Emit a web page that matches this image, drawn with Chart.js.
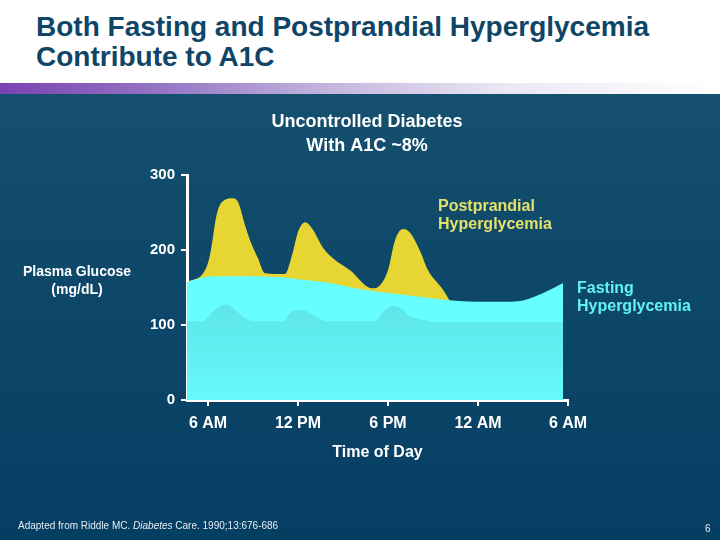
<!DOCTYPE html>
<html>
<head>
<meta charset="utf-8">
<script src="https://cdn.jsdelivr.net/npm/chart.js@4/dist/chart.umd.min.js"></script>
<style>
  html, body { margin: 0; padding: 0; }
  body { width: 720px; height: 540px; position: relative; overflow: hidden; background: #fff; font-family: "Liberation Sans", Arial, sans-serif; }
  #header { position: absolute; left: 0; top: 0; width: 720px; height: 83px; background: #fff; }
  #header h1 { margin: 0; position: absolute; left: 36px; top: 12px; font-size: 28px; line-height: 30px; font-weight: bold; color: #0f4566; }
  #bar { position: absolute; left: 0; top: 83px; width: 720px; height: 11px;
    background: linear-gradient(to right, #7a42b2 0%, #9474c4 22%, #c2b4dd 45%, #ebe7f3 70%, #ffffff 100%); }
  #panel { position: absolute; left: 0; top: 94px; width: 720px; height: 446px;
    background: linear-gradient(to bottom, #15506f 0%, #0c4668 50%, #053e63 100%); }
  #source { position: absolute; left: 18px; top: 520px; font-size: 10px; color: #e4ecf2; }
  #page { position: absolute; left: 705px; top: 523px; font-size: 10px; color: #e4ecf2; }
</style>
</head>
<body>
<div id="header"><h1>Both Fasting and Postprandial Hyperglycemia<br>Contribute to A1C</h1></div>
<div id="bar"></div>
<div id="panel"><canvas id="myChart" width="720" height="446"></canvas></div>
<div id="source">Adapted from Riddle MC. <i>Diabetes</i> Care. 1990;13:676-686</div>
<div id="page">6</div>
<script>
// hours of the day (6 = 6 AM, 30 = 6 AM next day), glucose in mg/dL
const xTickHours = [6, 12, 18, 24, 30]
const xTickLabels = ['6 AM', '12 PM', '6 PM', '12 AM', '6 AM']
const yTicks = [0, 100, 200, 300]

const postprandialHours = [4.6, 5.8, 6.13, 6.6, 7.13, 7.6, 8.0, 8.47, 8.8, 9.33, 9.8, 11.13, 11.6, 12.0, 12.47, 12.93, 13.67, 14.33, 15.47, 16.93, 17.47, 18.0, 18.47, 19.0, 19.47, 20.13, 20.67, 21.67, 22.13]
const postprandialGlucose = [157, 173, 193, 249, 267, 269, 264, 233, 213, 189, 169, 168, 193, 224, 237, 229, 203, 189, 173, 149, 153, 173, 213, 228, 223, 199, 173, 147, 132]

const fastingHours = [4.6, 5.8, 7.0, 8.8, 10.6, 12.47, 14.13, 15.8, 17.47, 19.13, 20.8, 22.13, 23.8, 25.47, 26.8, 27.67, 28.8, 29.67]
const fastingGlucose = [157, 164, 165, 165, 164, 160, 156, 149, 144, 140, 136, 133, 131, 131, 132, 137, 147, 156]

const normalHours = [4.6, 5.67, 6.27, 6.8, 7.27, 7.8, 8.47, 9.0, 11.0, 11.47, 11.93, 12.47, 13.13, 13.93, 17.13, 17.67, 18.27, 18.8, 19.47, 20.33, 21.0, 29.67]
const normalGlucose = [105, 105, 117, 125, 127, 120, 109, 105, 105, 116, 120, 119, 112, 105, 105, 117, 125, 123, 112, 107, 104, 104]

const toPoints = (xs, ys) => xs.map((x, i) => ({ x: x, y: ys[i] }))

const normalFill = (context) => {
    const area = context.chart.chartArea
    if (!area) return '#60ecec'
    const g = context.chart.ctx.createLinearGradient(0, area.top + 100, 0, area.bottom)
    g.addColorStop(0, '#5be0e3')
    g.addColorStop(1, '#66f9fa')
    return g
}

const labelsPlugin = {
    id: 'slideLabels',
    afterDraw: (chart) => {
        const ctx = chart.ctx
        ctx.save()
        ctx.textBaseline = 'middle'
        ctx.fillStyle = '#ffffff'
        ctx.textAlign = 'center'
        ctx.font = 'bold 18px "Liberation Sans", Arial, sans-serif'
        ctx.fillText('Uncontrolled Diabetes', 367, 28)
        ctx.fillText('With A1C ~8%', 367, 52)

        ctx.font = 'bold 14px "Liberation Sans", Arial, sans-serif'
        ctx.fillText('Plasma Glucose', 77, 178)
        ctx.fillText('(mg/dL)', 77, 196)

        ctx.textAlign = 'left'
        ctx.font = 'bold 16px "Liberation Sans", Arial, sans-serif'
        ctx.fillStyle = '#e4e06a'
        ctx.fillText('Postprandial', 438, 113)
        ctx.fillText('Hyperglycemia', 438, 131)

        ctx.fillStyle = '#62f2f4'
        ctx.fillText('Fasting', 577, 195)
        ctx.fillText('Hyperglycemia', 577, 213)
        ctx.restore()
    }
}

window.addEventListener('DOMContentLoaded', (event) => {
    let ctx = document.getElementById('myChart')

    let cfg = {
        type: 'line',
        data: {
            datasets: [
                {
                    label: 'Normal',
                    data: toPoints(normalHours, normalGlucose),
                    fill: 'origin',
                    backgroundColor: normalFill,
                    borderWidth: 0,
                    pointRadius: 0,
                    cubicInterpolationMode: 'monotone'
                },
                {
                    label: 'Fasting Hyperglycemia',
                    data: toPoints(fastingHours, fastingGlucose),
                    fill: 'origin',
                    backgroundColor: '#67feff',
                    borderWidth: 0,
                    pointRadius: 0,
                    cubicInterpolationMode: 'monotone'
                },
                {
                    label: 'Postprandial Hyperglycemia',
                    data: toPoints(postprandialHours, postprandialGlucose),
                    fill: 'origin',
                    backgroundColor: '#e6d532',
                    borderWidth: 0,
                    pointRadius: 0,
                    cubicInterpolationMode: 'monotone'
                },
            ],
        },
        options: {
            responsive: false,
            animation: false,
            devicePixelRatio: 1,
            layout: {
                padding: { left: 137, right: 152, top: 81, bottom: 78 }
            },
            plugins: {
                legend: { display: false },
                tooltip: { enabled: false },
            },
            scales: {
                x: {
                    type: 'linear',
                    min: 4.6,
                    max: 30,
                    afterFit: (scale) => { scale.height = 62 },
                    afterBuildTicks: (scale) => { scale.ticks = xTickHours.map(v => ({ value: v })) },
                    ticks: {
                        color: '#ffffff',
                        padding: 8,
                        maxRotation: 0,
                        font: { family: '"Liberation Sans", Arial, sans-serif', size: 16, weight: 'bold' },
                        callback: (value) => xTickLabels[xTickHours.indexOf(value)]
                    },
                    grid: { drawOnChartArea: false, drawTicks: true, tickLength: 6, color: '#ffffff', lineWidth: 2 },
                    border: { display: true, color: '#ffffff', width: 3 },
                    title: {
                        display: true,
                        text: 'Time of Day',
                        color: '#ffffff',
                        padding: 0,
                        font: { family: '"Liberation Sans", Arial, sans-serif', size: 16, weight: 'bold' }
                    }
                },
                y: {
                    min: 0,
                    max: 300,
                    afterFit: (scale) => { scale.width = 50 },
                    afterBuildTicks: (scale) => { scale.ticks = yTicks.map(v => ({ value: v })) },
                    ticks: {
                        color: '#ffffff',
                        padding: 6,
                        font: { family: '"Liberation Sans", Arial, sans-serif', size: 15, weight: 'bold' }
                    },
                    grid: { drawOnChartArea: false, drawTicks: true, tickLength: 6, color: '#ffffff', lineWidth: 2 },
                    border: { display: true, color: '#ffffff', width: 3 }
                }
            }
        },
        plugins: [labelsPlugin]
    }
    new Chart(ctx, cfg)
})
</script>
</body>
</html>
